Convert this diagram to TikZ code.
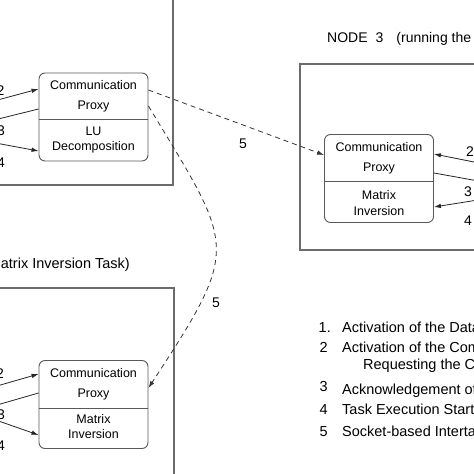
\documentclass[tikz,border=0pt]{standalone}
\usepackage{fontspec}
\setmainfont{Liberation Sans}
\usetikzlibrary{arrows.meta}
\begin{document}
\begin{tikzpicture}[x=1pt,y=-1pt,
  frame/.style={draw=black!58,line width=1.1pt},
  comp/.style={draw=black!65,line width=0.9pt,rounded corners=6pt,minimum width=109pt,minimum height=88pt,inner sep=0pt},
  divider/.style={draw=black!65,line width=0.8pt},
  ctext/.style={font=\fontsize{12.5}{14}\selectfont,anchor=base,inner sep=0pt},
  lbl/.style={font=\fontsize{14}{16}\selectfont,anchor=base,inner sep=0pt},
  ltxt/.style={font=\fontsize{14.5}{16}\selectfont,anchor=base west,inner sep=0pt},
  arr/.style={draw=black!85,line width=0.8pt,-{Latex[length=7pt,width=4.5pt]}},
  ln/.style={draw=black!85,line width=0.8pt},
  darr/.style={draw=black!80,line width=0.8pt,dash pattern=on 5pt off 4pt,-{Latex[length=7pt,width=4.5pt]}}]
\useasboundingbox (0,0) rectangle (474,474);
\clip (0,0) rectangle (474,474);
\fill[white] (0,0) rectangle (474,474);
% outer frames
\draw[frame] (-60,-20) rectangle (173,185);
\draw[frame] (-60,288) rectangle (174,520);
\draw[frame] (300,64) rectangle (520,250);
% titles
\node[lbl,anchor=base west] (t3) at (327,42) {NODE\hspace{8pt}3\hspace{13pt}(running the};
\node[ltxt,anchor=base east] (t2) at (130,268) {Matrix Inversion Task)};
% component boxes
\node[comp] (tl) at (93.5,117) {};
\node[comp] (rc) at (379,178.5) {};
\node[comp] (bl) at (93.5,404.5) {};
\draw[divider] ([yshift=-2pt]tl.west) -- ([yshift=-2pt]tl.east);
\draw[divider] ([yshift=-2.5pt]rc.west) -- ([yshift=-2.5pt]rc.east);
\draw[divider] ([yshift=-3.5pt]bl.west) -- ([yshift=-3.5pt]bl.east);
% component texts
\node[ctext] (tl1) at (93.5,89.5) {Communication};
\node[ctext] (tl2) at (93.5,109.5) {Proxy};
\node[ctext] (tl3) at (93.5,135.5) {LU};
\node[ctext] (tl4) at (93.5,150.5) {Decomposition};
\node[ctext] (rc1) at (379,151.5) {Communication};
\node[ctext] (rc2) at (379,171.5) {Proxy};
\node[ctext] (rc3) at (379,199.5) {Matrix};
\node[ctext] (rc4) at (379,215.5) {Inversion};
\node[ctext] (bl1) at (93.5,377.5) {Communication};
\node[ctext] (bl2) at (93.5,397.5) {Proxy};
\node[ctext] (bl3) at (93.5,423.5) {Matrix};
\node[ctext] (bl4) at (93.5,438.5) {Inversion};
% free ends
\coordinate (a1) at (-10,102);
\coordinate (a2) at (-10,121);
\coordinate (a3) at (-10,142);
\coordinate (b1) at (-10,388);
\coordinate (b2) at (-10,407);
\coordinate (b3) at (-10,418);
\coordinate (c1) at (484,164);
\coordinate (c2) at (484,182);
\coordinate (c3) at (484,199);
% connectors top-left
\draw[arr] (a1) -- ([yshift=28pt]tl.west);
\draw[ln] ([yshift=8pt]tl.west) -- (a2);
\draw[arr] (a3) -- ([yshift=-34pt]tl.west);
% connectors bottom-left
\draw[arr] (b1) -- ([yshift=30.5pt]bl.west);
\draw[ln] ([yshift=11.5pt]bl.west) -- (b2);
\draw[arr] (b3) -- ([yshift=-30.5pt]bl.west);
% connectors right
\draw[arr] (c1) -- ([yshift=24.5pt]rc.east);
\draw[ln] ([yshift=5.5pt]rc.east) -- (c2);
\draw[arr] (c3) -- ([yshift=-28.5pt]rc.east);
% edge labels
\node[lbl] (l2a) at (0.5,95) {2};
\node[lbl] (l3a) at (1,135) {3};
\node[lbl] (l4a) at (1,167) {4};
\node[lbl] (l2b) at (0,378) {2};
\node[lbl] (l3b) at (1,419) {3};
\node[lbl] (l4b) at (1,450) {4};
\node[lbl] (l2c) at (470,156) {2};
\node[lbl] (l3c) at (468,196) {3};
\node[lbl] (l4c) at (468,225) {4};
% dashed connectors
\draw[darr] ([yshift=27pt]tl.east) -- ([yshift=23.5pt]rc.west);
\draw[darr] ([yshift=11pt]tl.east) .. controls (234.6,249) and (242,245) .. ([yshift=16.5pt]bl.east);
\node[lbl] (l5a) at (243,148) {5};
\node[lbl] (l5b) at (216,307) {5};
% legend
\node[ltxt,anchor=base east] (n1) at (331,332) {1.};
\node[ltxt] (e1) at (342,332) {Activation of the Data};
\node[ltxt,anchor=base east] (n2) at (328,352) {2};
\node[ltxt] (e2) at (342,352) {Activation of the Comm};
\node[ltxt] (e2b) at (363,369) {Requesting the Co};
\node[ltxt,anchor=base east] (n3) at (328,391) {3};
\node[ltxt] (e3) at (342,394) {Acknowledgement of};
\node[ltxt,anchor=base east] (n4) at (328,414) {4};
\node[ltxt] (e4) at (342,414) {Task Execution Start};
\node[ltxt,anchor=base east] (n5) at (328,436) {5};
\node[ltxt] (e5) at (342,436) {Socket-based Intertask};
\end{tikzpicture}
\end{document}
